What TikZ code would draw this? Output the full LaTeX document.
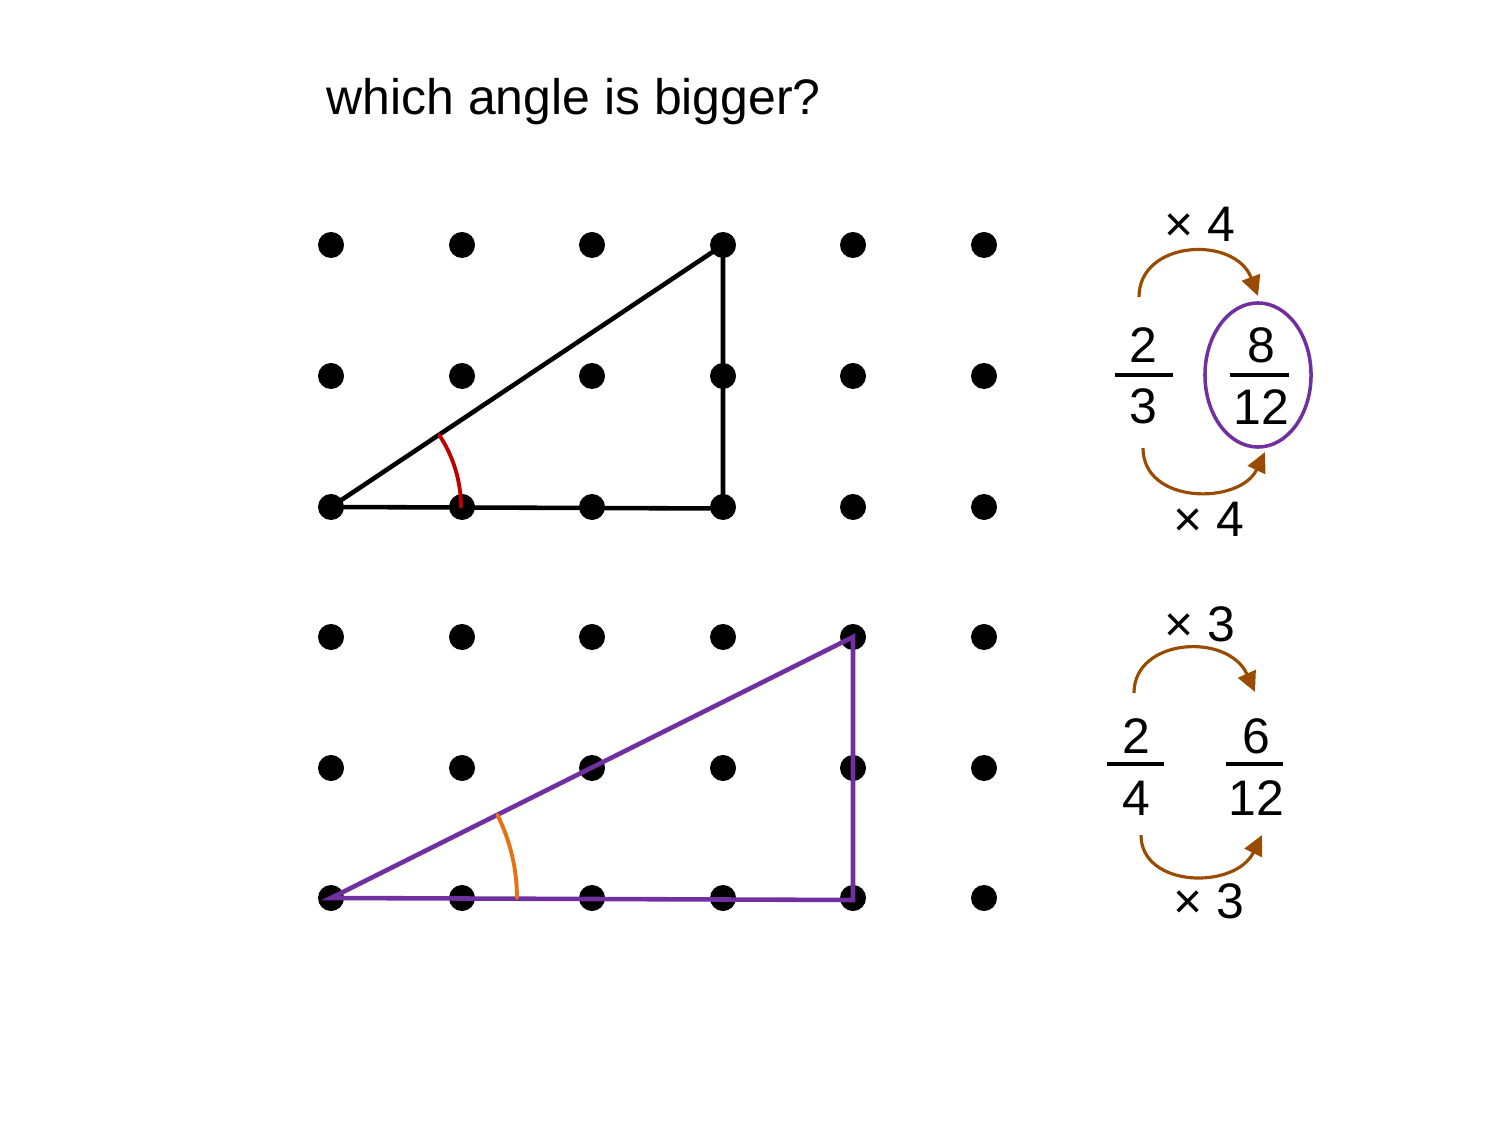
\documentclass[tikz,border=0pt]{standalone}
\usepackage{fontspec}
\setmainfont{Liberation Sans}
\usetikzlibrary{arrows.meta,shapes.geometric}
\definecolor{triPurple}{RGB}{112,48,160}
\definecolor{arrBrown}{RGB}{153,76,0}
\definecolor{arcRed}{RGB}{192,0,0}
\definecolor{arcOrange}{RGB}{232,112,16}
\tikzset{
  dot/.style={circle,fill=black,inner sep=0pt,minimum size=0.26cm},
  txt/.style={inner sep=0pt,anchor=base,font=\fontsize{14.2}{17}\selectfont},
  fracbar/.style={line width=1pt,black},
  tri/.style={line width=1.3pt,line join=miter},
  mularrow/.style={line width=0.9pt,arrBrown,-{Triangle[length=0.2cm,width=0.19cm]}},
  anglearc/.style={line width=1.1pt,line cap=round}
}
\begin{document}
\begin{tikzpicture}[x=0.01cm,y=-0.01cm]
\useasboundingbox (0,0) rectangle (1500,1125);
\node[txt,anchor=base west] (title) at (326,115) {which angle is bigger?};
% dots
\foreach \c/\x in {1/331,2/462,3/592,4/723,5/853,6/984}{
  \foreach \r/\y in {1/245,2/376,3/507,4/637,5/768,6/898}{
    \node[dot] (d-\c-\r) at (\x,\y) {};
  }
}
% top triangle
\draw[tri,black] (d-1-3.center) -- (d-4-1.center) -- ([yshift=-0.015cm]d-4-3.center) -- cycle;
\draw[anglearc,arcRed] (d-1-3.center) ++(-33.75:130) arc[start angle=-33.75,end angle=0,radius=130];
% bottom triangle
\draw[tri,triPurple] (d-1-6.center) -- (d-5-4.center) -- ([yshift=-0.02cm]d-5-6.center) -- cycle;
\draw[anglearc,arcOrange] (d-1-6.center) ++(-26.57:186) arc[start angle=-26.57,end angle=0,radius=186];
% upper fractions
\node[txt] (n1) at (1143,363) {2};
\node[txt] (m1) at (1143,424) {3};
\draw[fracbar] (1115,375) -- (1173,375);
\node[txt] (n2) at (1261,363) {8};
\node[txt] (m2) at (1261,425) {12};
\draw[fracbar] (1230,375) -- (1289,375);
\node[draw=triPurple,line width=1pt,ellipse,minimum width=1.06cm,minimum height=1.44cm,inner sep=0pt] (oval) at (1258,375) {};
\coordinate (a1s) at (1139,297); \coordinate (a1e) at (1258,296);
\draw[mularrow] (a1s) .. controls (1139,240) and (1235,235) .. (a1e);
\coordinate (a2s) at (1143,448); \coordinate (a2e) at (1265,452);
\draw[mularrow] (a2s) .. controls (1143,505) and (1240,505) .. (a2e);
\node[txt] (t1) at (1200,242) {× 4};
\node[txt] (t2) at (1209,537) {× 4};
% lower fractions
\node[txt] (n3) at (1136,753) {2};
\node[txt] (m3) at (1136,815) {4};
\draw[fracbar] (1107,764) -- (1164,764);
\node[txt] (n4) at (1256,753) {6};
\node[txt] (m4) at (1256,815) {12};
\draw[fracbar] (1226,764) -- (1283,764);
\coordinate (a3s) at (1134,693); \coordinate (a3e) at (1255,692);
\draw[mularrow] (a3s) .. controls (1134,638) and (1228,632) .. (a3e);
\coordinate (a4s) at (1141,835); \coordinate (a4e) at (1262,835);
\draw[mularrow] (a4s) .. controls (1141,888) and (1235,890) .. (a4e);
\node[txt] (t3) at (1200,642) {× 3};
\node[txt] (t4) at (1209,918) {× 3};
\end{tikzpicture}
\end{document}
